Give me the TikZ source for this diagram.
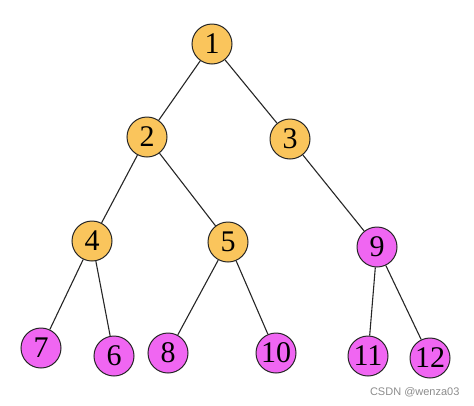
\documentclass[tikz,border=0pt]{standalone}
\usepackage{fontspec}
\setmainfont{Liberation Serif}
\setsansfont{Liberation Sans}
\usetikzlibrary{positioning}

\definecolor{vorange}{RGB}{250,197,92}
\definecolor{vpink}{RGB}{240,102,242}

\begin{document}
\begin{tikzpicture}[
    x=1pt, y=-1pt,
    vert/.style={circle, draw=black!85, line width=1pt, minimum size=40pt,
                 inner sep=0pt, font=\fontsize{30}{30}\selectfont},
    vert orange/.style={vert, fill=vorange},
    vert pink/.style={vert, fill=vpink},
    edge line/.style={draw=black!85, line width=1.1pt},
]

\useasboundingbox (0,0) rectangle (474,405);

% --- inner vertices ---
\foreach \n/\x/\y in {1/212/44, 2/147/137, 3/290/139, 4/92/241, 5/228/242} {
    \node[vert orange] (n\n) at (\x,\y) {\n};
}

% --- outer vertices ---
\foreach \n/\x/\y in {9/377/247, 7/41/348, 6/114/356, 8/168/353,
                      10/276/353, 11/368/356, 12/430/358} {
    \node[vert pink] (n\n) at (\x,\y) {\n};
}

% --- tree edges ---
\foreach \a/\b in {1/2, 1/3, 2/4, 2/5, 3/9, 4/7, 4/6, 5/8, 5/10, 9/11, 9/12} {
    \draw[edge line] (n\a) -- (n\b);
}

% --- watermark ---
\node[font=\sffamily\fontsize{11}{11}\selectfont, text=black!45, anchor=east]
    (mark) at (463,392) {CSDN @wenza03};

\end{tikzpicture}
\end{document}
